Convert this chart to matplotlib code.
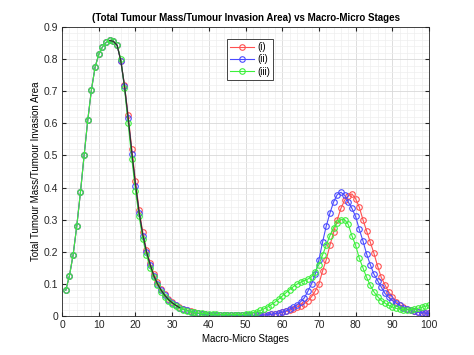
import numpy as np
import matplotlib
matplotlib.use('Agg')
import matplotlib.pyplot as plt
from matplotlib.ticker import MultipleLocator

plt.rcParams['font.family'] = ['Liberation Sans', 'DejaVu Sans']

stages = np.arange(1, 101)

# shared early rise (x = 1..15)
rise = [0.08, 0.125, 0.19, 0.28, 0.385, 0.50, 0.61, 0.705, 0.775, 0.815,
        0.838, 0.852, 0.858, 0.855, 0.843]

# x = 16..100, ten values per row
red_tail = [0.795, 0.72, 0.625, 0.52, 0.42, 0.33, 0.26, 0.205, 0.165, 0.13,
            0.105, 0.083, 0.067, 0.053, 0.042, 0.034, 0.027, 0.022, 0.018, 0.014,
            0.011, 0.009, 0.007, 0.005, 0.004, 0.0035, 0.003, 0.003, 0.0025, 0.0025,
            0.002, 0.002, 0.002, 0.002, 0.002, 0.002, 0.002, 0.002, 0.002, 0.003,
            0.004, 0.005, 0.006, 0.008, 0.011, 0.014, 0.018, 0.023, 0.028, 0.032,
            0.038, 0.046, 0.060, 0.078, 0.100, 0.140, 0.175, 0.220, 0.260, 0.300,
            0.335, 0.360, 0.375, 0.380, 0.365, 0.339, 0.300, 0.265, 0.230, 0.195,
            0.155, 0.120, 0.097, 0.075, 0.060, 0.045, 0.035, 0.027, 0.021, 0.017,
            0.014, 0.012, 0.010, 0.009, 0.008]

blue_tail = [0.795, 0.715, 0.615, 0.505, 0.405, 0.32, 0.25, 0.20, 0.16, 0.125,
             0.10, 0.08, 0.064, 0.051, 0.041, 0.033, 0.026, 0.021, 0.017, 0.013,
             0.010, 0.008, 0.006, 0.005, 0.004, 0.0035, 0.003, 0.003, 0.0025, 0.0025,
             0.002, 0.002, 0.002, 0.002, 0.002, 0.002, 0.002, 0.002, 0.002, 0.003,
             0.004, 0.005, 0.007, 0.009, 0.012, 0.016, 0.021, 0.027, 0.034, 0.044,
             0.056, 0.077, 0.100, 0.130, 0.175, 0.230, 0.280, 0.320, 0.355, 0.378,
             0.385, 0.376, 0.355, 0.335, 0.310, 0.270, 0.234, 0.193, 0.160, 0.130,
             0.110, 0.090, 0.070, 0.058, 0.048, 0.040, 0.033, 0.026, 0.021, 0.017,
             0.014, 0.012, 0.010, 0.009, 0.008]

green_tail = [0.80, 0.71, 0.60, 0.49, 0.39, 0.31, 0.24, 0.19, 0.15, 0.12,
              0.095, 0.075, 0.060, 0.048, 0.038, 0.031, 0.025, 0.020, 0.016, 0.013,
              0.011, 0.009, 0.008, 0.007, 0.006, 0.005, 0.005, 0.004, 0.004, 0.004,
              0.004, 0.004, 0.004, 0.004, 0.005, 0.007, 0.010, 0.013, 0.017, 0.022,
              0.028, 0.035, 0.043, 0.052, 0.062, 0.072, 0.082, 0.091, 0.099, 0.105,
              0.110, 0.115, 0.122, 0.138, 0.160, 0.190, 0.220, 0.250, 0.275, 0.290,
              0.300, 0.300, 0.285, 0.250, 0.220, 0.180, 0.150, 0.120, 0.095, 0.075,
              0.060, 0.048, 0.040, 0.033, 0.028, 0.024, 0.021, 0.019, 0.019, 0.020,
              0.021, 0.024, 0.027, 0.030, 0.034]

red = rise + red_tail
blue = rise + blue_tail
green = rise + green_tail

# dark line on the falling side of the first peak
dark_x = np.arange(13, 33)
dark_y = [0.858, 0.855, 0.843, 0.795, 0.717, 0.617, 0.51, 0.41, 0.322, 0.253,
          0.20, 0.16, 0.125, 0.10, 0.08, 0.064, 0.051, 0.041, 0.033, 0.026]

fig = plt.figure(figsize=(4.74, 3.55), dpi=100)
ax = fig.add_axes([0.131, 0.110, 0.774, 0.814])

ax.plot(stages, red, '-o', color='#ff5050', lw=0.8, ms=4, mfc='none', mew=0.8, label='(i)')
ax.plot(stages, blue, '-o', color='#4a4aff', lw=0.8, ms=4, mfc='none', mew=0.8, label='(ii)')
ax.plot(stages, green, '-o', color='#3cf03c', lw=0.8, ms=4, mfc='none', mew=0.8, label='(iii)')
ax.plot(dark_x, dark_y, '-', color='#303030', lw=0.9)

ax.set_xlim(0, 100)
ax.set_ylim(0, 0.9)
ax.xaxis.set_major_locator(MultipleLocator(10))
ax.xaxis.set_minor_locator(MultipleLocator(2))
ax.yaxis.set_minor_locator(MultipleLocator(0.02))
ax.set_yticks(np.arange(0, 0.91, 0.1))
ax.set_yticklabels(['0', '0.1', '0.2', '0.3', '0.4', '0.5', '0.6', '0.7', '0.8', '0.9'])
ax.grid(which='major', color='#d8d8d8', lw=0.6)
ax.grid(which='minor', color='#eeeeee', lw=0.5)
ax.set_axisbelow(True)
ax.tick_params(which='both', direction='in', top=True, right=True, labelsize=7.5,
               colors='#262626', pad=3)
ax.tick_params(which='minor', length=0)
ax.tick_params(which='major', length=3)
for s in ax.spines.values():
    s.set_color('#262626')
    s.set_linewidth(0.6)

ax.set_title('(Total Tumour Mass/Tumour Invasion Area) vs Macro-Micro Stages',
             fontsize=7, fontweight='bold', pad=4)
ax.set_xlabel('Macro-Micro Stages', fontsize=7, labelpad=3)
ax.set_ylabel('Total Tumour Mass/Tumour Invasion Area', fontsize=7, labelpad=2)

leg = ax.legend(loc='upper left', bbox_to_anchor=(0.436, 0.975), fontsize=7,
                fancybox=False, framealpha=1, edgecolor='#262626',
                handlelength=2.5, borderpad=0.3, labelspacing=0.25, handletextpad=0.3)
leg.get_frame().set_linewidth(0.6)

fig.savefig('out.png', dpi=100)
